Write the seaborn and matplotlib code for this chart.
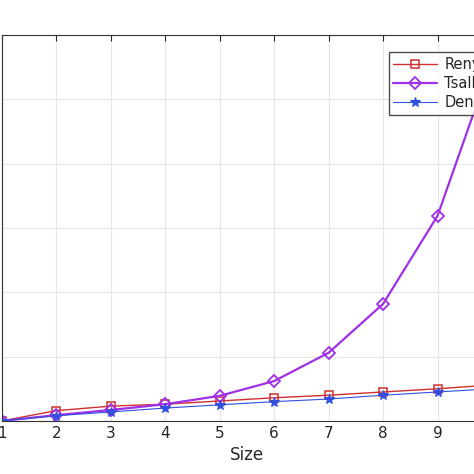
import numpy as np
import pandas as pd
import matplotlib
matplotlib.use('Agg')
import matplotlib.pyplot as plt
import seaborn as sns

# values (y in grid units)
sizes = [1, 2, 3, 4, 5, 6, 7, 8, 9, 10]
renyi = [0.0, 0.16, 0.23, 0.26, 0.31, 0.36, 0.40, 0.45, 0.50, 0.56]
tsallis = [0.0, 0.09, 0.17, 0.26, 0.39, 0.62, 1.06, 1.82, 3.19, 5.6]
deng = [0.0, 0.08, 0.14, 0.20, 0.25, 0.30, 0.34, 0.40, 0.45, 0.50]

sns.set_style('white')
plt.rcParams['font.family'] = ['DejaVu Sans']

fig = plt.figure(figsize=(4.74, 4.74), dpi=100)
ax = fig.add_axes([0.004, 0.112, 1.034, 0.814])

sns.lineplot(x=sizes, y=renyi, ax=ax, color='#d03030', lw=1, marker='s', ms=5.5,
             mfc='none', mec='#d03030', mew=1.1, label='Renyi')
sns.lineplot(x=sizes, y=tsallis, ax=ax, color='#a030e8', lw=1.6, marker='D', ms=6,
             mfc='none', mec='#a030e8', mew=1.3, label='Tsallis')
sns.lineplot(x=sizes, y=deng, ax=ax, color='#3050e0', lw=0.8, marker='*', ms=7,
             mfc='#3050e0', mec='#3050e0', label='Deng')

ax.set_xlim(1, 10)
ax.set_ylim(0, 6)
ax.set_xticks(sizes)
ax.set_yticks(range(7))
ax.set_yticklabels([])
ax.tick_params(direction='in', top=True, right=True, labelsize=11, length=4)
ax.grid(True, color='#e6e6e6', lw=0.8)
for s in ax.spines.values():
    s.set_color('#333333')
    s.set_linewidth(0.8)
ax.set_xlabel('Size', fontsize=12)

ax.legend(loc='upper left', bbox_to_anchor=(0.805, 0.905), bbox_transform=fig.transFigure,
          fontsize=10.5, frameon=True, fancybox=False, edgecolor='#222222',
          handlelength=3, borderpad=0.3, labelspacing=0.3, handletextpad=0.5)

fig.savefig('out.png', dpi=100)
